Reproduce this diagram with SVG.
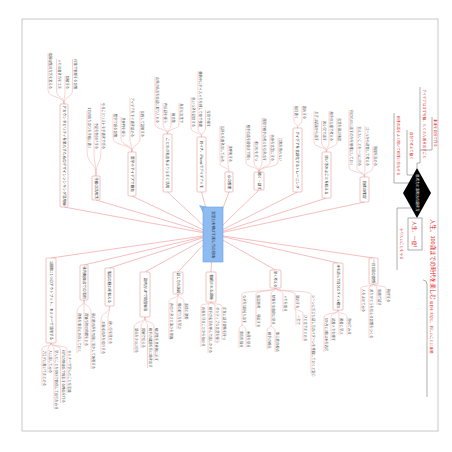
<svg xmlns="http://www.w3.org/2000/svg" width="452" height="452" viewBox="0 0 452 452">
<style>
text{font-family:'Liberation Sans','Noto Sans CJK JP',sans-serif}
.t1{font-size:3.6px;fill:#333;text-anchor:middle}
.t2{font-size:3.3px;fill:#555}
.e{text-anchor:end}
.rt{font-size:3.5px;fill:#e02828}
.ln{stroke:#f2a2a2;stroke-width:0.7;fill:none}
.br{stroke:#f0a8a8;stroke-width:0.5;fill:none}
.bx{fill:#fff;stroke:#e89a9a;stroke-width:0.6}
.gl{stroke:#9a9a9a;stroke-width:0.8;fill:none}
</style>
<rect x="22" y="19" width="416" height="412" fill="#fff" stroke="#c8c8c8" stroke-width="1"/>
<g id="connectors">
<path class="ln" d="M213,234.5L64,207M213,234.5L96,200M213,234.5L132,196M213,234.5L167.5,192M213,234.5L201.5,192M213,234.5L229,192M213,234.5L259,190M213,234.5L297.5,192M213,234.5L326.5,198M213,234.5L364.5,202"/>
<path class="ln" d="M213,234.5L51,258M213,234.5L84,265M213,234.5L109.5,268M213,234.5L145,272M213,234.5L178,272M213,234.5L211,272M213,234.5L275.5,270M213,234.5L338,263M213,234.5L373.5,258"/>
</g>
<g id="center">
<polygon points="203,213 199,205 208,207" fill="#8cbcf2"/>
<rect x="203" y="207" width="20" height="55" fill="#8cbcf2" stroke="#6f9fdc" stroke-width="0.6"/>
<text class="t1" transform="translate(211.7,234.5) rotate(90)">営業力を伸ばす話し方の技術</text>
</g>
<g id="nA">
<path class="br" d="M64,104C64,95.6 48,98.4 48,90V53M64,104C64,95.6 56.5,98.4 56.5,90V59M64,104C64,95.6 65,98.4 65,90V76M64,104C64,95.6 72.5,98.4 72.5,90V59"/>
<text class="t2 e" transform="translate(49.1,89) rotate(90)">情報収集の方法を変える</text>
<text class="t2 e" transform="translate(57.6,89) rotate(90)">メモの書き方を工夫</text>
<text class="t2 e" transform="translate(66.1,89) rotate(90)">図解する</text>
<text class="t2 e" transform="translate(73.6,89) rotate(90)">付箋で整理する習慣</text>
<rect class="bx" x="60" y="104" width="8" height="103" rx="1"/>
<text class="t1" transform="translate(62.6,155.5) rotate(90)">アカウンタビリティを果たすためのデザインシンキング活用術</text>
</g>
<g id="nB">
<path class="br" d="M96,176C96,160.4 87,165.6 87,150V111M96,176C96,160.4 94,165.6 94,150V123M96,176C96,160.4 101,165.6 101,150V103"/>
<text class="t2 e" transform="translate(88.1,149) rotate(90)">1日の振り返りを手帳に書く</text>
<text class="t2 e" transform="translate(95.1,149) rotate(90)">予定を色分けする</text>
<text class="t2 e" transform="translate(102.1,149) rotate(90)">やることリストを手書きで作る</text>
<rect class="bx" x="92" y="176" width="8" height="24" rx="1"/>
<text class="t1" transform="translate(94.6,188) rotate(90)">手帳の活用法</text>
</g>
<g id="nC">
<path class="br" d="M132,152C132,143.6 113,146.4 113,138V114M132,152C132,143.6 121,146.4 121,138V117M132,152C132,143.6 130,146.4 130,138V98M132,152C132,143.6 140,146.4 140,138V111"/>
<text class="t2 e" transform="translate(114.1,137) rotate(90)">数字で語る習慣</text>
<text class="t2 e" transform="translate(122.1,137) rotate(90)">具体例を使う</text>
<text class="t2 e" transform="translate(131.1,137) rotate(90)">アイデアをすぐ書き留める</text>
<text class="t2 e" transform="translate(141.1,137) rotate(90)">比較して説明する</text>
<rect class="bx" x="128" y="152" width="8" height="44" rx="1"/>
<text class="t1" transform="translate(130.6,174) rotate(90)">数字やアイデアで勝負</text>
</g>
<g id="nD">
<path class="br" d="M167.5,134C167.5,128 155,130 155,124V77M167.5,134C167.5,128 163,130 163,124V103M167.5,134C167.5,128 171,130 171,124V113M167.5,134C167.5,128 179,130 179,124V103"/>
<text class="t2 e" transform="translate(156.1,123) rotate(90)">古典の名言を会話に取り入れる</text>
<text class="t2 e" transform="translate(164.1,123) rotate(90)">例え話を使う</text>
<text class="t2 e" transform="translate(172.1,123) rotate(90)">格言集</text>
<text class="t2 e" transform="translate(180.1,123) rotate(90)">身近な言葉で</text>
<rect class="bx" x="163" y="134" width="9" height="58" rx="1"/>
<text class="t1" transform="translate(166.1,163) rotate(90)">ことわざ名言をよりうまく活用</text>
</g>
<g id="nE">
<path class="br" d="M201.5,137C201.5,131.6 191,133.4 191,128V97M201.5,137C201.5,131.6 198,133.4 198,128V71M201.5,137C201.5,131.6 205.5,133.4 205.5,128V110"/>
<text class="t2 e" transform="translate(192.1,127) rotate(90)">思いつきを記録する</text>
<text class="t2 e" transform="translate(199.1,127) rotate(90)">移動中にボイスメモを残して後で整理</text>
<text class="t2 e" transform="translate(206.6,127) rotate(90)">写真で残す</text>
<rect class="bx" x="197" y="137" width="9" height="55" rx="1"/>
<text class="t1" style="font-size:3.4px" transform="translate(200.2,164.5) rotate(90)">朝イチ、iPhoneでアイデアメモ</text>
</g>
<g id="nF">
<path class="br" d="M229,172C229,166.6 220,168.4 220,163V126M229,172C229,166.6 228,168.4 228,163V145"/>
<text class="t2 e" transform="translate(221.1,162) rotate(90)">気持ちを書き出してみる</text>
<text class="t2 e" transform="translate(229.1,162) rotate(90)">深呼吸する</text>
<rect class="bx" x="225" y="172" width="8" height="20" rx="1"/>
<text class="t1" transform="translate(227.6,182) rotate(90)">心の整理</text>
</g>
<g id="nG">
<path class="br" d="M259,172C259,166 246,168 246,162V125M259,172C259,166 254,168 254,162V141M259,172C259,166 262,168 262,162V118M259,172C259,166 270,168 270,162V135M259,172C259,166 278,168 278,162V138"/>
<text class="t2 e" transform="translate(247.1,161) rotate(90)">相手の話を最後まで聞く</text>
<text class="t2 e" transform="translate(255.1,161) rotate(90)">相づちを打つ</text>
<text class="t2 e" transform="translate(263.1,161) rotate(90)">質問で相手の考えを引き出す</text>
<text class="t2 e" transform="translate(271.1,161) rotate(90)">共感を言葉にする</text>
<text class="t2 e" transform="translate(279.1,161) rotate(90)">沈黙を恐れない</text>
<rect class="bx" x="254" y="172" width="10" height="18" rx="1"/>
<text class="t1" transform="translate(257.6,181) rotate(90)">聞く・話す</text>
</g>
<g id="nH">
<path class="br" d="M297.5,128C297.5,123.2 294,124.8 294,120V106M297.5,128C297.5,123.2 302,124.8 302,120V106"/>
<text class="t2 e" transform="translate(295.1,119) rotate(90)">毎日書く</text>
<text class="t2 e" transform="translate(303.1,119) rotate(90)">要約する</text>
<rect class="bx" x="293" y="128" width="9" height="64" rx="1"/>
<text class="t1" transform="translate(296.1,160) rotate(90)">アイデアを言語化するトレーニング</text>
</g>
<g id="nI">
<path class="br" d="M326.5,152C326.5,146 314,148 314,142V111M326.5,152C326.5,146 321.5,148 321.5,142V121M326.5,152C326.5,146 329,148 329,142V111M326.5,152C326.5,146 337,148 337,142V118"/>
<text class="t2 e" transform="translate(315.1,141) rotate(90)">まずは結論から話す</text>
<text class="t2 e" transform="translate(322.6,141) rotate(90)">短い文で話す</text>
<text class="t2 e" transform="translate(330.1,141) rotate(90)">相手の立場で考える</text>
<text class="t2 e" transform="translate(338.1,141) rotate(90)">言葉を選ぶ練習</text>
<rect class="bx" x="322" y="152" width="9" height="46" rx="1"/>
<text class="t1" transform="translate(325.1,175) rotate(90)">思い浮かぶことを伝える</text>
</g>
<g id="nJ">
<path class="br" d="M364.5,177C364.5,171 349,173 349,167V110M364.5,177C364.5,171 357,173 357,167V126M364.5,177C364.5,171 365,173 365,167V126M364.5,177C364.5,171 373,173 373,167V146"/>
<text class="t2 e" transform="translate(350.1,166) rotate(90)">何のために話すのかを明確にしておく</text>
<text class="t2 e" transform="translate(358.1,166) rotate(90)">伝えたいことを一つに絞る</text>
<text class="t2 e" transform="translate(366.1,166) rotate(90)">ゴールから逆算して考える</text>
<text class="t2 e" transform="translate(374.1,166) rotate(90)">期限を決める</text>
<rect class="bx" x="360" y="177" width="9" height="25" rx="1"/>
<text class="t1" transform="translate(363.1,189.5) rotate(90)">目標の確認</text>
</g>
<g id="nK">
<path class="br" d="M51,343C51,346.6 42,345.4 42,349V386M51,343C51,346.6 48,345.4 48,349V373M51,343C51,346.6 54,345.4 54,349V409M51,343C51,346.6 60.5,345.4 60.5,349V403M51,343C51,346.6 67,345.4 67,349V393"/>
<text class="t2" transform="translate(43.1,350) rotate(90)">ブログに書いてまとめる</text>
<text class="t2" transform="translate(49.1,350) rotate(90)">人に話してみる</text>
<text class="t2" transform="translate(55.1,350) rotate(90)">学んだことをSNSで発信して反応をみる</text>
<text class="t2" transform="translate(61.6,350) rotate(90)">社内の勉強会で発表する機会を作る</text>
<text class="t2" transform="translate(68.1,350) rotate(90)">セミナーで学んだことを実践</text>
<rect class="bx" x="46" y="258" width="10" height="85" rx="1"/>
<text class="t1" transform="translate(49.6,300.5) rotate(90)">1週間に1つのアウトプット、セミナーで活用する</text>
</g>
<g id="nL">
<path class="br" d="M84,300C84,307.2 77,304.8 77,312V353M84,300C84,307.2 84,304.8 84,312V346M84,300C84,307.2 91,304.8 91,312V369"/>
<text class="t2" transform="translate(78.1,313) rotate(90)">資料を事前に共有しておく</text>
<text class="t2" transform="translate(85.1,313) rotate(90)">質疑応答の時間をとる</text>
<text class="t2" transform="translate(92.1,313) rotate(90)">参加者の声を次回に活かして改善する</text>
<rect class="bx" x="80" y="265" width="8" height="35" rx="1"/>
<text class="t1" transform="translate(82.6,282.5) rotate(90)">社内勉強会での活用</text>
</g>
<g id="nM">
<path class="br" d="M109.5,306C109.5,314.4 101,311.6 101,320V354M109.5,306C109.5,314.4 108,311.6 108,320V344"/>
<text class="t2" transform="translate(102.1,321) rotate(90)">お客様の声を紹介する</text>
<text class="t2" transform="translate(109.1,321) rotate(90)">使い方を見せる</text>
<rect class="bx" x="105" y="268" width="9" height="38" rx="1"/>
<text class="t1" transform="translate(108.1,287) rotate(90)">製品の魅力を伝える</text>
</g>
<g id="nN">
<path class="br" d="M145,317C145,323 134,321 134,327V353M145,317C145,323 141,321 141,327V348M145,317C145,323 147.5,321 147.5,327V368M145,317C145,323 154,321 154,327V361"/>
<text class="t2" transform="translate(135.1,328) rotate(90)">要点を3つに絞る</text>
<text class="t2" transform="translate(142.1,328) rotate(90)">図解で伝える</text>
<text class="t2" transform="translate(148.6,328) rotate(90)">相手の課題を先に聞き出す</text>
<text class="t2" transform="translate(155.1,328) rotate(90)">解決策を具体的に示す</text>
<rect class="bx" x="140" y="272" width="10" height="45" rx="1"/>
<text class="t1" transform="translate(143.6,294.5) rotate(90)">説明力UPで問題解決</text>
</g>
<g id="nO">
<path class="br" d="M178,294C178,298.8 169,297.2 169,302V339M178,294C178,298.8 177,297.2 177,302V329M178,294C178,298.8 184,297.2 184,302V319"/>
<text class="t2" transform="translate(170.1,303) rotate(90)">声の大きさと速さを意識</text>
<text class="t2" transform="translate(178.1,303) rotate(90)">間の取り方を学ぶ</text>
<text class="t2" transform="translate(185.1,303) rotate(90)">表情と姿勢</text>
<rect class="bx" x="173" y="272" width="10" height="22" rx="1"/>
<text class="t1" style="font-size:3.4px" transform="translate(176.7,283) rotate(90)">話し方の訓練</text>
</g>
<g id="nP">
<path class="br" d="M211,302C211,304.4 201,303.6 201,306V347M211,302C211,304.4 208,303.6 208,306V353M211,302C211,304.4 215,303.6 215,306V343M211,302C211,304.4 222,303.6 222,306V340"/>
<text class="t2" transform="translate(202.1,307) rotate(90)">約束を守ることから始める</text>
<text class="t2" transform="translate(209.1,307) rotate(90)">相手の名前を呼んで話しかける</text>
<text class="t2" transform="translate(216.1,307) rotate(90)">ポジティブな言葉を使う</text>
<text class="t2" transform="translate(223.1,307) rotate(90)">正直に話す姿勢を持つ</text>
<rect class="bx" x="206" y="272" width="10" height="30" rx="1"/>
<text class="t1" transform="translate(209.6,287) rotate(90)">信頼される話術</text>
</g>
<g id="nQ">
<path class="br" d="M275.5,288C275.5,291.6 242,290.4 242,294V324M275.5,288C275.5,291.6 256,290.4 256,294V308M275.5,288C275.5,291.6 271,290.4 271,294V325M275.5,288C275.5,291.6 283,290.4 283,294V312M275.5,288C275.5,291.6 295,290.4 295,294V308M275.5,288C275.5,291.6 311,290.4 311,294V374"/>
<path class="br" d="M242,324C242,327 239,326 239,330V348M242,324C242,327 246,326 246,330V348M256,308C256,310 256,311 256,313V327M271,325C271,328 267,327 267,331V349M271,325C271,328 275,327 275,331V352M295,308C295,311 296,310 296,314V325M295,308C295,311 303,310 303,314V341"/>
<text class="t2" transform="translate(243.1,295) rotate(90)">なぜを5回繰り返す</text>
<text class="t2" transform="translate(240.1,331) rotate(90)">原因を探る</text>
<text class="t2" transform="translate(247.1,331) rotate(90)">本質を見る</text>
<text class="t2" transform="translate(257.1,295) rotate(90)">仮説思考</text>
<text class="t2" transform="translate(257.1,314) rotate(90)">検証する</text>
<text class="t2" transform="translate(272.1,295) rotate(90)">物事を多面的に見る</text>
<text class="t2" transform="translate(268.1,332) rotate(90)">相手の視点</text>
<text class="t2" transform="translate(276.1,332) rotate(90)">第三者の視点</text>
<text class="t2" transform="translate(284.1,295) rotate(90)">メモを取る</text>
<text class="t2" transform="translate(296.1,295) rotate(90)">要約する</text>
<text class="t2" transform="translate(297.1,315) rotate(90)">一文で</text>
<text class="t2" transform="translate(304.1,315) rotate(90)">ひと言でまとめる</text>
<text class="t2" transform="translate(312.1,295) rotate(90)">シーンに応じた話し方のパターンを準備しておくと安心</text>
<rect class="bx" x="270" y="270" width="11" height="18" rx="1"/>
<text class="t1" style="font-size:3.3px" transform="translate(274.2,279) rotate(90)">深く考える</text>
</g>
<g id="nR">
<path class="br" d="M338,310C338,314.2 324,312.8 324,317V352M338,310C338,314.2 331,312.8 331,317V341M338,310C338,314.2 339,312.8 339,317V335M338,310C338,314.2 347,312.8 347,317V335"/>
<text class="t2" transform="translate(325.1,318) rotate(90)">1か月に3冊は本を読む</text>
<text class="t2" transform="translate(332.1,318) rotate(90)">読書メモを残す</text>
<text class="t2" transform="translate(340.1,318) rotate(90)">著者に学ぶ</text>
<text class="t2" transform="translate(348.1,318) rotate(90)">真似てみる</text>
<rect class="bx" x="333" y="263" width="10" height="47" rx="1"/>
<text class="t1" style="font-size:3.4px" transform="translate(336.7,286.5) rotate(90)">本を読んで自分スタイル確立</text>
</g>
<g id="nS">
<path class="br" d="M373.5,284C373.5,286.4 361,285.6 361,288V311M373.5,284C373.5,286.4 369,285.6 369,288V338M373.5,284C373.5,286.4 377,285.6 377,288V305M373.5,284C373.5,286.4 386,285.6 386,288V301"/>
<text class="t2" transform="translate(362.1,289) rotate(90)">人をほめてみる</text>
<text class="t2" transform="translate(370.1,289) rotate(90)">ありがとうを伝える習慣をつくる</text>
<text class="t2" transform="translate(378.1,289) rotate(90)">笑顔で話す</text>
<text class="t2" transform="translate(387.1,289) rotate(90)">挨拶する</text>
<rect class="bx" x="369" y="258" width="9" height="26" rx="1"/>
<text class="t1" transform="translate(372.1,271) rotate(90)">一日1回の習慣</text>
</g>
<g id="nDiamond">
<path class="gl" d="M409,183H394V113M413,175H407V130M417,168V163H420V87M420,150H432V117M411,208H397V270"/>
<text class="rt" transform="translate(396.5,116) rotate(90)">相手の話をよく聞いて相手に合わせる</text>
<text class="rt" transform="translate(409.5,132) rotate(90)">自分で考えて動く</text>
<text class="rt" transform="translate(422.5,89) rotate(90)">アイデアはまず行動、たくさん書き出すこと</text>
<text class="rt" transform="translate(434.3,119) rotate(90)">未来を自分で作る</text>
<text class="rt" transform="translate(399.5,228) rotate(90)">やりたいことをやる</text>
<polygon points="403,193 417,168 431,193 417,218" fill="#000"/>
<text style="font-size:3.4px;fill:#fff;text-anchor:middle" transform="translate(415.7,193) rotate(90)">思考力と表現力の磨き方</text>
<rect x="408" y="218" width="14" height="32" fill="#fff" stroke="#9a9a9a" stroke-width="0.8"/>
<text style="font-size:5px;fill:#e02828;text-anchor:middle" transform="translate(413.2,234) rotate(90)">人生、一度!</text>
<text style="font-size:5.5px;fill:#e02828" transform="translate(431,219) rotate(90)">人生、100歳までの時代を楽しむ</text>
<path class="gl" d="M423,280Q427,280 427,284V397"/>
<text class="rt" transform="translate(430,301) rotate(90)">毎日を大切に、新しいことに挑戦</text>
</g>
</svg>
